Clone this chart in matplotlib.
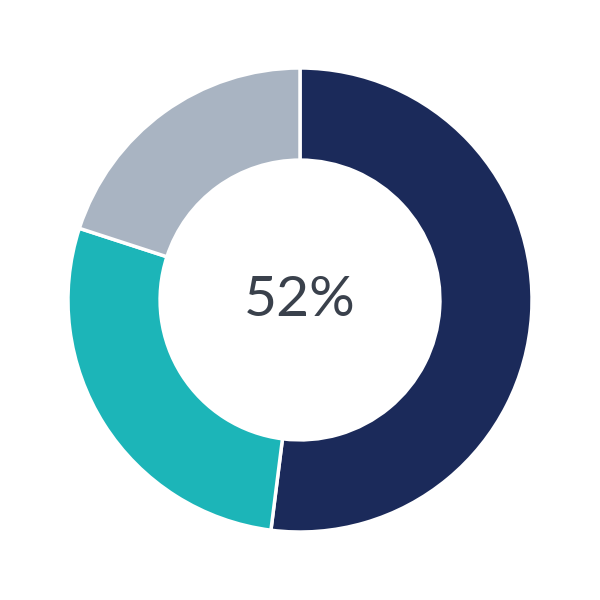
import matplotlib
matplotlib.use("Agg")
import matplotlib.pyplot as plt

labels = ["A", "B", "C"]
values = [52, 28, 20]
colors = ["#1b2a5a", "#1cb5b8", "#a9b4c2"]
center_label = "52%"

fig = plt.figure(figsize=(6, 6), dpi=100)
ax = fig.add_axes([0, 0, 1, 1])
ax.pie(values, colors=colors, startangle=90, counterclock=False,
       radius=1.0, wedgeprops=dict(width=0.397, edgecolor="white", linewidth=2.5))
ax.set_xlim(-1.293, 1.293)
ax.set_ylim(-1.293, 1.293)
ax.set_aspect("equal")
ax.axis("off")
ax.text(0, 0, center_label, ha="center", va="center", fontsize=41,
        color="#3a414c", family=["Lato", "DejaVu Sans"], fontweight="normal")
fig.savefig("out.png", dpi=100, facecolor="white")
